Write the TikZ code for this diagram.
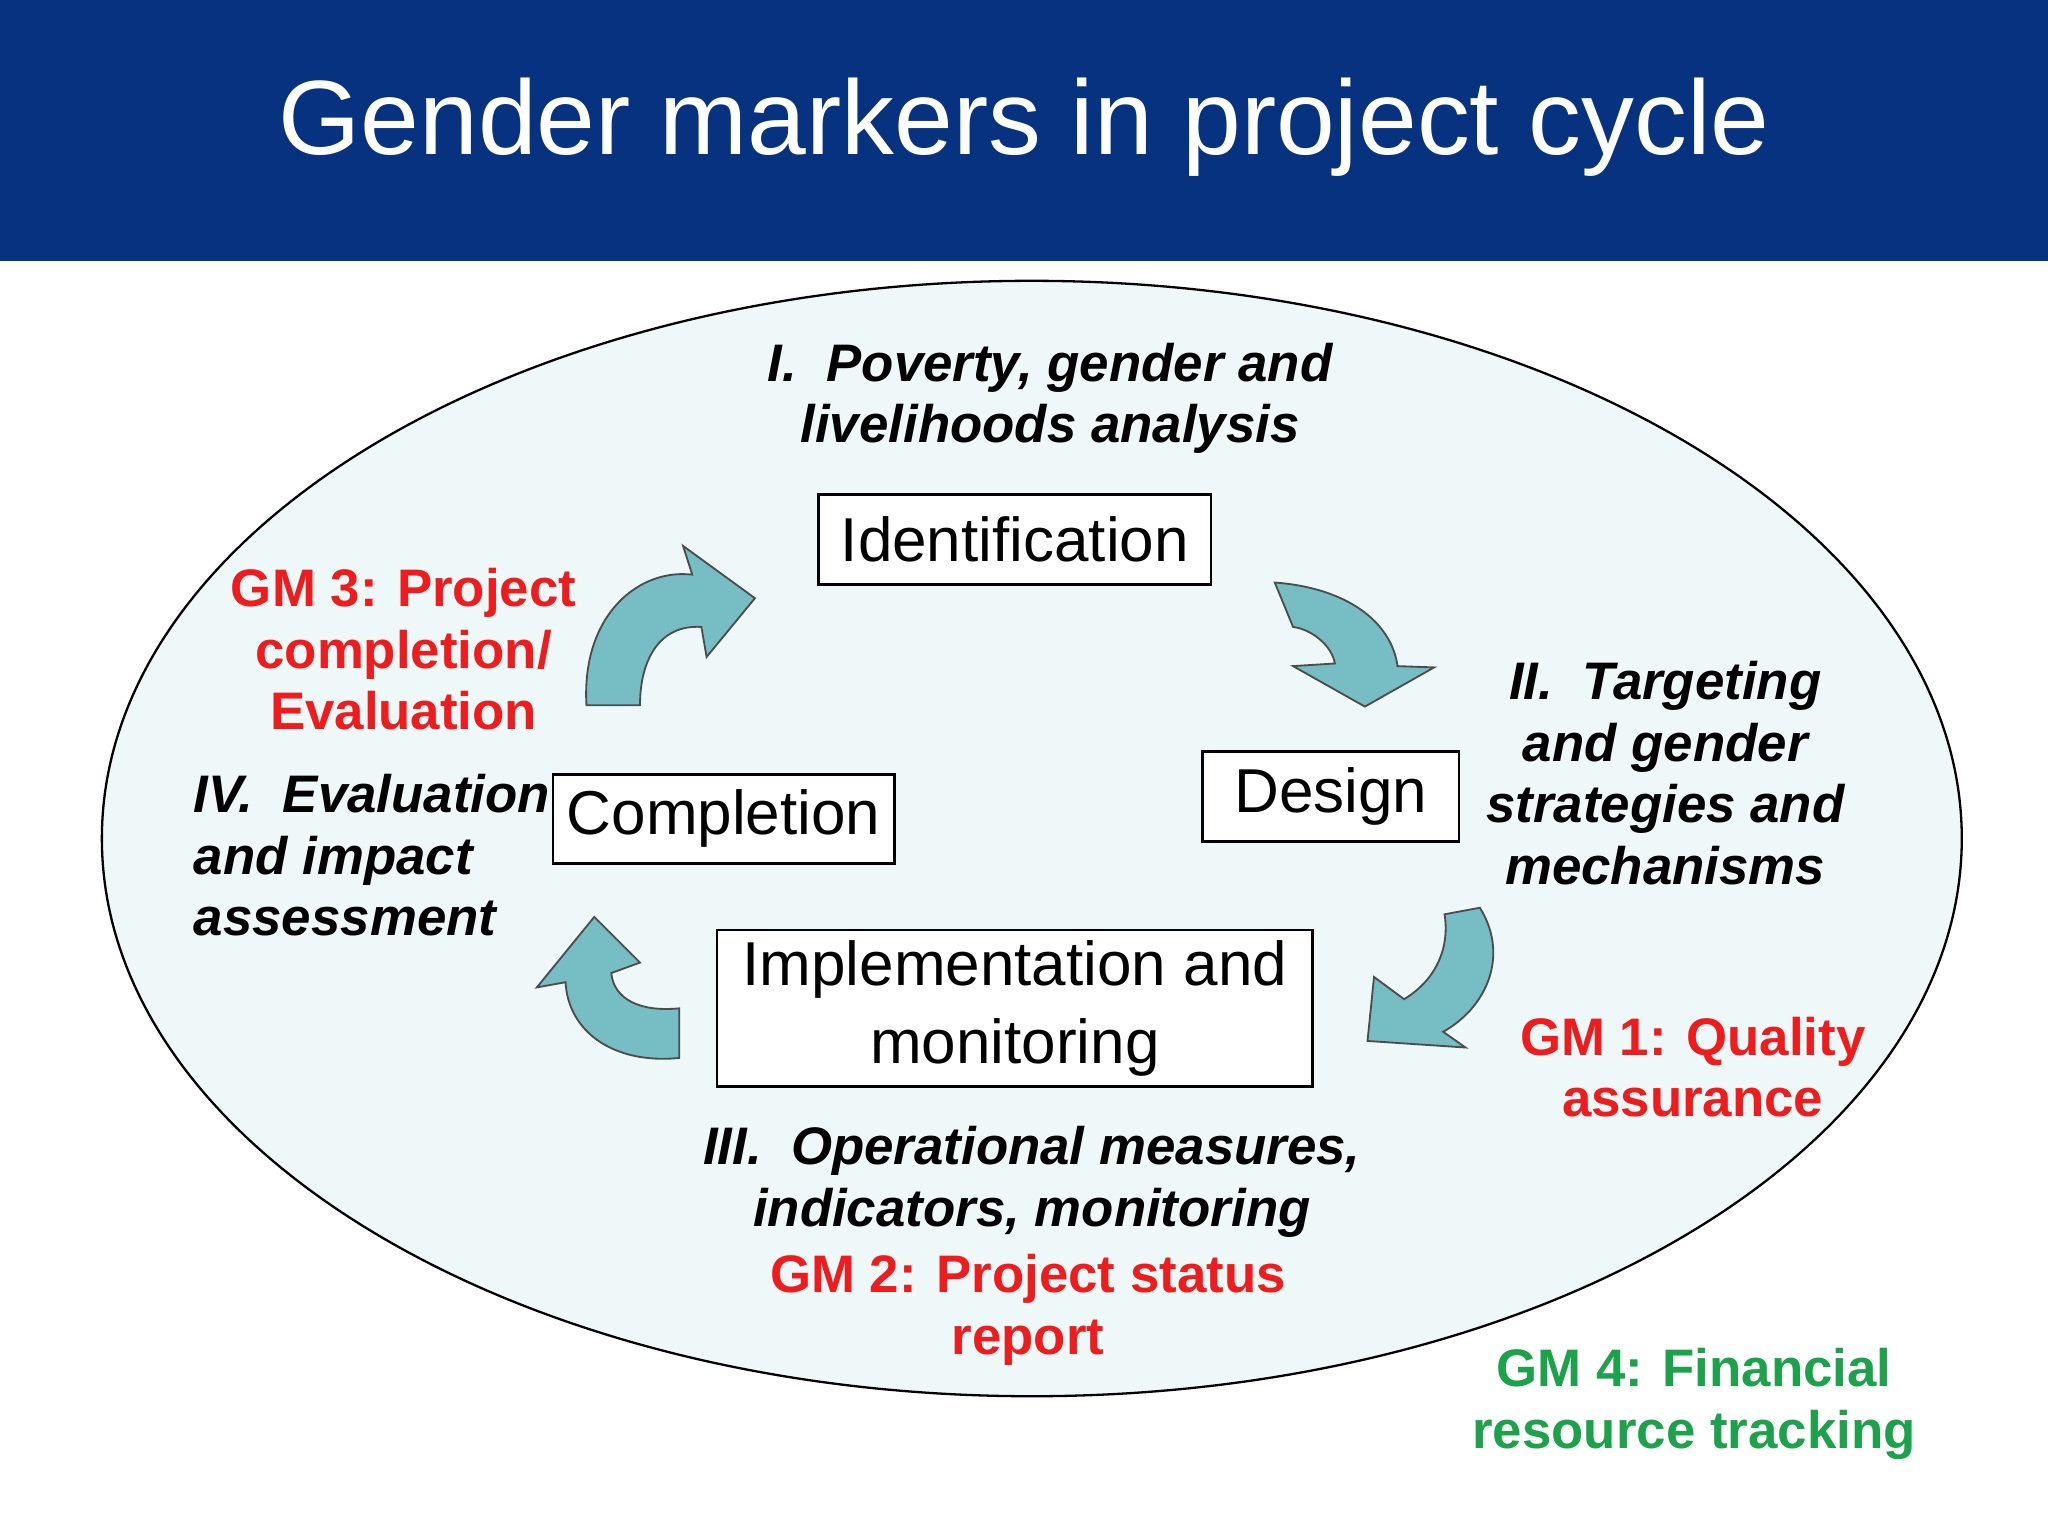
\documentclass[tikz,border=0pt]{standalone}
\usepackage{fontspec}
\setmainfont{Liberation Sans}
\definecolor{bandblue}{HTML}{06327F}
\definecolor{ovalfill}{HTML}{EFF8F8}
\definecolor{teal}{HTML}{76BEC4}
\definecolor{gmred}{HTML}{EE1C1C}
\definecolor{gmgreen}{HTML}{1BA24A}
\tikzset{
  stage/.style={draw, line width=0.6pt, fill=white, inner sep=0pt, font=\fontsize{13.5}{17}\selectfont, align=center},
  phase/.style={font=\fontsize{11.5}{13.4}\bfseries\itshape\selectfont, align=center},
  marker/.style={font=\fontsize{11.5}{13.4}\bfseries\selectfont, align=center, text=gmred},
  cyclearrow/.style={fill=teal, draw=black!70, line width=0.4pt},
}
\begin{document}
\begin{tikzpicture}[x=0.01cm, y=-0.01cm]
  \useasboundingbox (0,0) rectangle (1568,1176);
  \fill[bandblue] (0,0) rectangle (1568,200);
  \node[text=white, font=\fontsize{23}{26}\selectfont] (title) at (784,97) {Gender markers in project cycle};

  \draw[fill=ovalfill, line width=0.5pt] (790,642) ellipse [x radius=712, y radius=-427];

  \node[stage, minimum width=3cm, minimum height=0.69cm] (ident) at (777,413) {Identification};
  \node[stage, minimum width=1.96cm, minimum height=0.69cm] (design) at (1019,610) {Design};
  \node[stage, minimum width=2.61cm, minimum height=0.68cm] (compl) at (554,627) {Completion};
  \node[stage, minimum width=4.56cm, minimum height=1.2cm] (impl) at (777,772) {Implementation and\\monitoring};

  % curved arrows
  \draw[cyclearrow] (449,540) .. controls (445,470) and (490,435) .. (530,440) -- (523,418) -- (578,458) -- (541,503) -- (537,480) .. controls (505,478) and (490,505) .. (490,540) -- cycle;
  \draw[cyclearrow] (976,446) .. controls (1030,450) and (1065,475) .. (1070,510) -- (1098,511) -- (1045,541) -- (990,510) -- (1022,508) .. controls (1020,495) and (1005,482) .. (990,480) -- cycle;
  \draw[cyclearrow] (1133,695) .. controls (1155,730) and (1140,770) .. (1105,790) -- (1122,802) -- (1047,797) -- (1052,748) -- (1075,765) .. controls (1100,750) and (1110,725) .. (1106,700) -- cycle;
  \draw[cyclearrow] (520,810) .. controls (470,815) and (435,790) .. (433,752) -- (411,756) -- (455,702) -- (490,737) -- (468,745) .. controls (470,765) and (490,775) .. (520,772) -- cycle;

  \node[phase] (p1) at (804,305) {I.\ \ Poverty, gender and\\livelihoods analysis};
  \node[phase] (p2) at (1275,592) {II.\ \ Targeting\\and gender\\strategies and\\mechanisms};
  \node[phase] (p3) at (790,905) {III.\ \ Operational measures,\\indicators, monitoring};
  \node[phase, align=left, anchor=west] (p4) at (136,655) {IV.\ \ Evaluation\\and impact\\assessment};

  \node[marker] (gm1) at (1296,817) {GM 1: Quality\\assurance};
  \node[marker] (gm2) at (787,1003) {GM 2: Project status\\report};
  \node[marker] (gm3) at (309,497) {GM 3: Project\\completion/\\Evaluation};
  \node[marker, text=gmgreen] (gm4) at (1297,1075) {GM 4: Financial\\resource tracking};
\end{tikzpicture}
\end{document}
